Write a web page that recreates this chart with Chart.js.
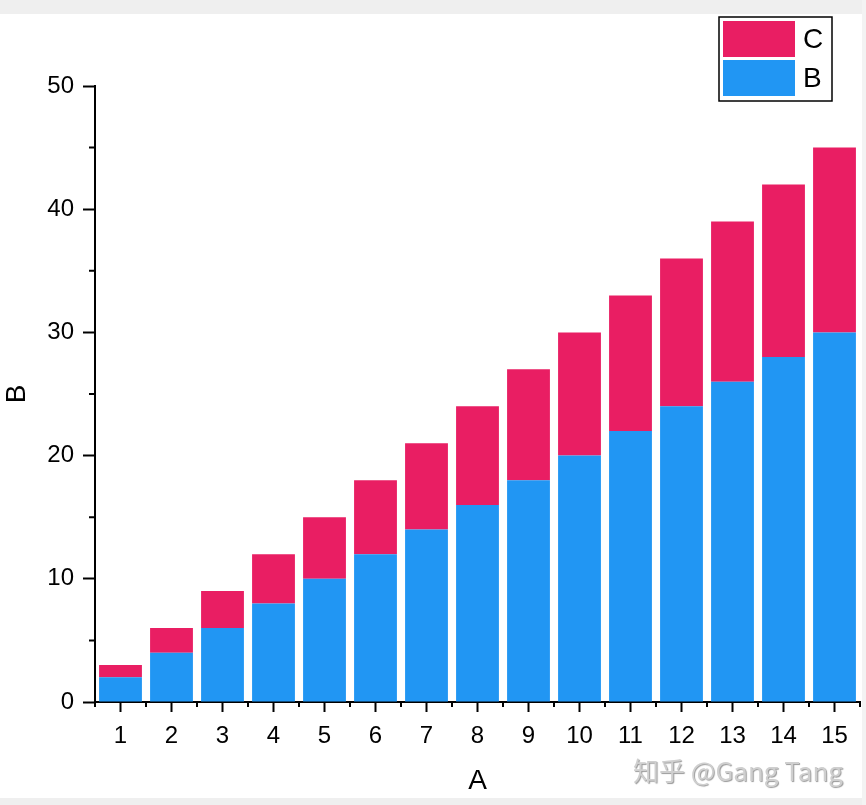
<!DOCTYPE html>
<html>
<head>
<meta charset="utf-8">
<script src="https://cdn.jsdelivr.net/npm/chart.js@4.4.0/dist/chart.umd.min.js"></script>
<style>
  html, body { margin: 0; padding: 0; background: #fff; }
  #wrap { position: relative; width: 866px; height: 805px; overflow: hidden; }
  #topband { position: absolute; left: 0; top: 0; width: 866px; height: 14px; background: #efefef; }
  #botband { position: absolute; left: 0; top: 798px; width: 866px; height: 7px; background: #efefef; }
  #rightband { position: absolute; left: 862px; top: 0; width: 4px; height: 805px; background: #f3f3f3; }
  #mark { position: absolute; left: 633px; top: 751px; font: 26px "Noto Sans CJK SC", sans-serif;
          color: #cfcfcf; text-shadow: 1px 1px 1px #9a9a9a; white-space: nowrap; }
</style>
</head>
<body>
<div id="wrap">
  <canvas id="chart" width="866" height="805"></canvas>
  <div id="topband"></div>
  <div id="botband"></div>
  <div id="rightband"></div>
  <div id="mark">知乎 @Gang Tang</div>
</div>
<script>
const categories = ['1', '2', '3', '4', '5', '6', '7', '8', '9', '10', '11', '12', '13', '14', '15'];
const valuesB = [2, 4, 6, 8, 10, 12, 14, 16, 18, 20, 22, 24, 26, 28, 30];
const valuesC = [1, 2, 3, 4, 5, 6, 7, 8, 9, 10, 11, 12, 13, 14, 15];
const yTicks = [0, 10, 20, 30, 40, 50];

const blue = '#2196F3';
const pink = '#E91E63';
const font = 'Arial, "Liberation Sans", sans-serif';

// minor ticks (between major ones) + the boxed legend, C on top
const extras = {
  id: 'extras',
  afterDraw(chart) {
    const ctx = chart.ctx;
    const x = chart.scales.x, y = chart.scales.y;
    ctx.save();
    ctx.strokeStyle = '#000';
    ctx.lineWidth = 2;
    ctx.beginPath();
    for (let i = 0; i < yTicks.length - 1; i++) {
      const py = y.getPixelForValue((yTicks[i] + yTicks[i + 1]) / 2);
      ctx.moveTo(y.right - 6, py);
      ctx.lineTo(y.right, py);
    }
    for (let i = 0; i <= categories.length; i++) {
      const px = x.getPixelForValue(i - 0.5);
      ctx.moveTo(px, x.top);
      ctx.lineTo(px, x.top + 5);
    }
    ctx.stroke();

    // legend
    const lx = 719, ly = 17, lw = 113, lh = 84;
    ctx.lineWidth = 1.5;
    ctx.strokeRect(lx, ly, lw, lh);
    const items = chart.data.datasets.slice().reverse();
    ctx.font = '28px ' + font;
    ctx.textBaseline = 'middle';
    items.forEach((ds, i) => {
      const top = ly + 4 + i * 39;
      ctx.fillStyle = ds.backgroundColor;
      ctx.fillRect(lx + 4, top, 72, 36);
      ctx.fillStyle = '#000';
      ctx.fillText(ds.label, lx + 84, top + 19);
    });
    ctx.restore();
  }
};

new Chart(document.getElementById('chart'), {
  type: 'bar',
  data: {
    labels: categories,
    datasets: [
      { label: 'B', data: valuesB, backgroundColor: blue, barPercentage: 0.84, categoryPercentage: 1 },
      { label: 'C', data: valuesC, backgroundColor: pink, barPercentage: 0.84, categoryPercentage: 1 }
    ]
  },
  options: {
    responsive: false,
    animation: false,
    layout: { padding: { top: 86, right: 6, left: 0, bottom: 0 } },
    plugins: { legend: { display: false }, tooltip: { enabled: false } },
    scales: {
      x: {
        stacked: true,
        afterFit: s => { s.height = 103; },
        border: { display: true, color: '#000', width: 2 },
        grid: { offset: false, drawOnChartArea: false, drawTicks: true, tickLength: 10, tickColor: '#000', tickWidth: 2 },
        ticks: { color: '#000', font: { family: font, size: 24 }, padding: 10, autoSkip: false, maxRotation: 0 },
        title: { display: true, text: 'A', color: '#000', font: { family: font, size: 28 }, padding: { top: 0, bottom: 7 } }
      },
      y: {
        stacked: true,
        min: 0,
        max: 50,
        afterFit: s => { s.width = 95; },
        afterBuildTicks: s => { s.ticks = yTicks.map(v => ({ value: v })); },
        border: { display: true, color: '#000', width: 2 },
        grid: { drawOnChartArea: false, drawTicks: true, tickLength: 12, tickColor: '#000', tickWidth: 2 },
        ticks: { color: '#000', font: { family: font, size: 24 }, padding: 9 },
        title: { display: true, text: 'B', color: '#000', font: { family: font, size: 28 }, padding: { top: 0, bottom: 4 } }
      }
    }
  },
  plugins: [extras]
});
</script>
</body>
</html>
